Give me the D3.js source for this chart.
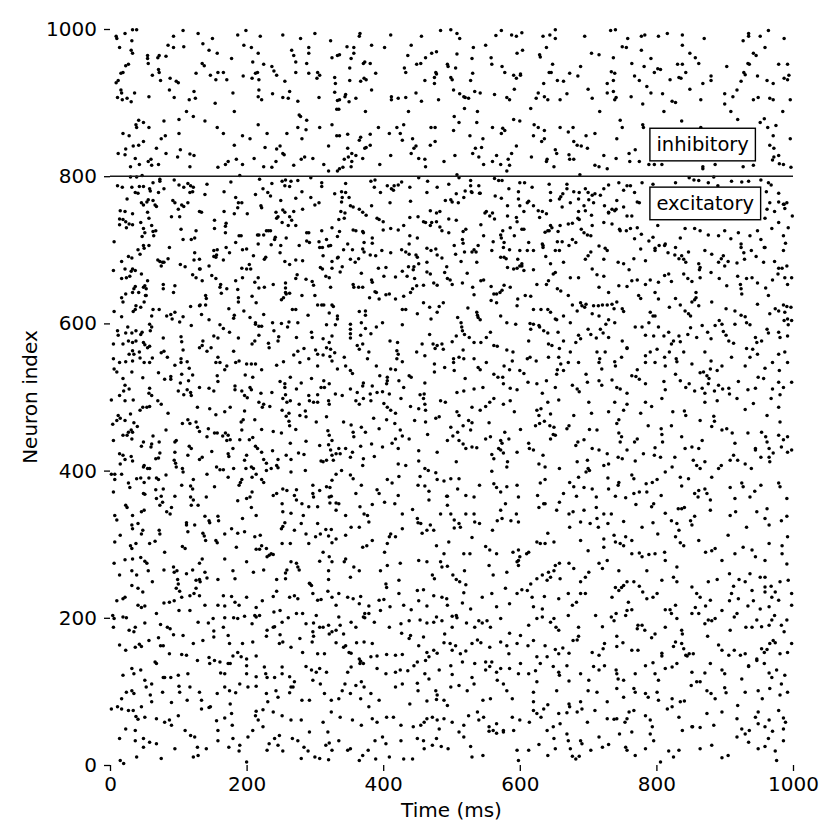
<!DOCTYPE html>
<html lang="en">
<head>
    <meta charset="UTF-8">
    <title>Spike raster</title>
    <script src="https://d3js.org/d3.v7.min.js"></script>
    <style>
        body { margin: 0; background: #fff; }
        text { font-family: "DejaVu Sans", sans-serif; fill: #000; }
    </style>
</head>
<body>
<div id="chart"></div>
<script>
    const xTicks = [0, 200, 400, 600, 800, 1000];
    const yTicks = [0, 200, 400, 600, 800, 1000];
    const boundary = 800;
    const groupNames = ["inhibitory", "excitatory"];

    // spikes as flat pairs: time (ms), neuron index, time, neuron index, ...
    const inhibitoryEarly = [
        9,990, 10,987, 22,994, 32,984, 33,999, 39,999, 93,990, 107,998, 129,994, 150,987, 187,992, 199,998, 220,990, 253,992, 279,987, 300,994, 323,984,
        14,975, 31,971, 33,967, 85,978, 93,975, 108,976, 136,980, 145,971, 157,967, 196,978, 207,975, 217,967, 266,971, 269,964, 291,975, 291,967, 325,961, 333,964, 55,964, 55,960, 72,964, 82,963, 70,961,
        56,953, 23,950, 27,952, 19,941, 16,940, 12,930, 9,927, 62,937, 71,945, 72,941, 74,930, 88,933, 97,929, 100,927, 126,940, 135,953, 138,950, 147,937, 155,931, 158,941, 166,941, 171,931, 178,960, 195,936, 209,955, 213,940, 216,941, 208,933, 218,931, 225,952, 237,949, 240,943, 244,937, 256,929, 272,955, 272,941, 288,953, 291,940, 304,941, 307,937, 303,933, 329,934, 330,926,
        16,917, 17,913, 11,907, 18,904, 25,906, 31,901, 36,913, 57,908, 87,917, 94,907, 123,915, 125,906, 116,904, 154,899, 180,913, 218,917, 217,908, 222,904, 238,912, 253,907, 261,906, 263,915, 275,902, 306,907, 329,914, 333,903,
        112,888, 122,881, 182,888, 79,875, 101,877, 42,876, 49,873, 38,870, 39,866, 57,866, 139,875, 157,866, 217,870, 277,883, 279,881, 288,876, 275,866, 287,863, 307,866, 325,870, 332,891,
        19,858, 28,855, 75,851, 81,855, 101,858, 166,858, 194,855, 205,851, 230,858, 259,858, 281,851, 332,855, 49,847, 42,842, 34,841, 182,842, 227,839, 244,837, 249,841, 320,841,
        12,831, 22,829, 23,837, 37,824, 43,816, 30,813, 56,820, 60,823, 61,815, 71,816, 68,838, 82,831, 99,826, 103,836, 117,830, 123,828, 117,813, 158,812, 169,816, 173,820, 185,823, 194,816, 211,824, 225,813, 237,812, 243,820, 253,831, 255,829, 269,815, 280,823, 285,826, 297,824, 313,816, 320,807, 333,807
    ];
    const inhibitoryMid = [
        366,994, 365,990, 411,992, 456,990, 484,998, 499,999, 508,994, 512,987, 573,998, 588,992, 595,990, 603,995, 634,990, 644,992, 652,999,
        347,976, 357,975, 353,960, 357,967, 383,978, 402,975, 441,978, 436,964, 449,952, 455,953, 462,961, 471,967, 478,969, 508,966, 532,975, 530,960, 550,978, 558,961, 559,952, 565,991, 596,967, 604,971, 629,965, 630,962, 639,975, 652,987, 371,953, 373,955, 381,953, 336,965,
        351,947, 389,940, 431,947, 433,941, 351,930, 367,929, 372,933, 375,931, 461,930, 475,934, 477,941, 478,939, 475,926, 494,952, 495,949, 499,934, 501,931, 506,947, 528,930, 531,940, 574,949, 578,941, 591,937, 601,939, 601,937, 595,933, 635,926, 643,941, 646,941, 648,952, 655,930, 664,929,
        383,917, 345,911, 344,908, 336,904, 350,901, 360,906, 374,888, 412,908, 412,904, 422,906, 433,907, 448,913, 456,902, 481,904, 503,917, 512,912, 518,908, 520,907, 525,906, 534,915, 542,913, 519,892, 538,888, 563,911, 581,907, 585,904, 592,918, 616,892, 624,906, 627,913, 636,908, 641,904, 659,904, 335,891, 437,888,
        504,881, 511,873, 503,862, 537,873, 591,877, 600,875, 430,870, 420,866, 425,858, 428,849, 393,866, 381,857, 367,853, 365,849, 348,857, 336,855, 409,858, 470,866, 476,866, 476,847, 527,855, 546,851, 560,866, 575,865, 578,862, 573,858, 621,870, 627,866, 620,855, 636,862, 659,866, 632,847, 636,851, 443,851,
        348,838, 375,839, 381,842, 373,838, 354,831, 360,828, 349,826, 354,820, 353,813, 343,823, 341,812, 336,810, 370,824, 395,816, 411,828, 441,831, 445,838, 448,841, 452,824, 461,823, 462,813, 469,842, 489,820, 505,828, 531,831, 535,838, 540,826, 544,839, 547,816, 560,820, 566,828, 572,816, 583,823, 585,815, 588,831, 595,841, 581,807, 617,826, 640,823, 639,820, 650,813, 652,836, 654,831, 508,802
    ];
    const inhibitoryLate = [
        695,990, 733,998, 740,999, 758,987, 778,990, 783,992, 803,990, 816,994, 838,992, 838,978, 870,987, 927,984, 935,994, 935,990, 952,990, 964,998, 987,987, 750,976, 756,975, 778,971, 959,975,
        705,967, 716,965, 737,961, 764,953, 792,960, 782,949, 797,941, 802,946, 806,945, 831,952, 838,952, 843,941, 849,967, 857,961, 862,953, 903,949, 928,941, 930,938, 934,953, 936,952, 942,967, 946,964, 979,952, 992,952, 994,937, 992,931, 987,933, 689,949, 673,940, 685,936, 734,942, 739,940, 728,926, 737,930, 768,936, 775,930, 786,922, 820,931, 833,934, 836,933, 868,926, 880,936, 880,930, 924,929, 948,936, 962,930, 971,926,
        700,918, 706,906, 728,913, 737,915, 741,907, 739,904, 763,908, 780,898, 792,913, 809,912, 823,902, 828,900, 849,918, 865,904, 900,912, 900,898, 912,908, 918,917, 942,904, 949,907, 966,906, 971,904, 985,888, 669,912, 717,888, 811,888, 909,888, 996,904,
        747,876, 750,866, 780,870, 781,866, 837,875, 678,866, 671,860, 697,855, 710,858, 742,851, 679,847, 684,842, 690,841, 699,838, 865,866, 952,873, 958,878, 963,866, 975,869, 971,855, 966,842, 972,838, 972,826, 979,828, 970,822, 980,817, 986,816, 997,812, 996,851, 919,877,
        672,829, 673,823, 679,823, 723,828, 741,824, 760,831, 761,820, 769,836, 775,820, 710,815, 716,813, 728,810, 688,802, 789,816, 797,816, 808,816, 868,813, 868,810, 886,816, 927,813, 942,815
    ];
    const excitatoryEarlyUpper = [
        30,799, 39,799, 47,801, 63,791, 73,796, 73,793, 94,795, 101,788, 108,785, 114,790, 118,787, 122,785, 121,779, 117,778, 142,789, 139,775, 177,792, 167,779, 190,801, 11,787, 18,785, 32,785, 37,778, 41,777, 43,786, 49,786, 58,783, 59,780, 71,778, 79,783, 219,796, 224,783, 237,790, 231,778, 235,773, 213,775, 252,793, 257,795, 256,787, 263,786, 265,793, 275,794, 281,779, 294,798, 310,791, 310,786, 329,776,
        25,769, 46,764, 54,765, 56,768, 63,767, 66,761, 49,761, 55,751, 68,759, 92,767, 95,764, 100,755, 105,761, 108,759, 114,764, 90,745, 102,745, 131,752, 134,751, 167,752, 184,771, 188,764, 193,764, 187,757, 182,749, 201,749, 221,760, 222,757, 243,751, 250,767, 253,754, 256,751, 269,752, 272,770, 282,755, 294,771, 300,761, 306,764, 15,753, 22,752, 14,742, 19,741, 33,749,
        14,734, 23,738, 24,730, 28,735, 33,734, 45,737, 49,729, 57,743, 61,733, 63,725, 67,726, 51,723, 47,718, 64,719, 6,711, 104,728, 107,714, 119,714, 124,716, 126,726, 153,740, 153,729, 170,736, 169,732, 169,723, 189,719, 192,719, 184,710, 216,720, 218,720, 225,720, 229,726, 232,726, 235,726, 242,717, 241,714, 244,743, 246,745, 252,737, 263,745, 266,740, 261,733, 258,716, 272,733, 288,723, 291,723, 288,712, 310,726, 306,711, 317,714, 325,730, 333,718,
        49,706, 50,702, 57,706, 41,700, 44,694, 27,691, 32,689, 87,703, 85,688, 70,686, 73,684, 77,683, 75,678, 79,683, 103,680, 110,677, 123,686, 131,687, 131,674, 132,674, 124,696, 152,699, 152,691, 157,700, 156,693, 155,690, 166,686, 170,703, 175,696, 194,700, 200,701, 210,692, 217,708, 228,690, 226,687, 236,707, 250,706, 249,696, 256,684, 263,680, 272,686, 277,706, 282,685, 292,710, 307,703, 311,703, 320,705, 323,706, 312,692, 325,684, 333,689, 145,678, 200,674, 204,680, 206,674, 193,675, 5,672, 17,684, 33,674, 22,674, 31,671,
        37,672, 17,661, 24,662, 29,664, 46,667, 37,650, 35,647, 49,649, 51,651, 55,658, 53,647, 78,653, 78,647, 95,651, 121,666, 126,662, 135,658, 149,665, 155,661, 162,653, 161,649, 163,641, 171,647, 184,658, 187,646, 194,662, 212,656, 217,662, 218,648, 226,649, 239,653, 257,655, 257,648, 257,642, 272,661, 274,666, 287,660, 296,657, 298,652, 308,676, 311,674, 316,664, 321,662, 325,675, 323,649, 23,640, 17,635, 33,642, 42,642, 52,638, 93,642,
        19,629, 38,624, 37,619, 34,616, 45,622, 50,629, 53,638, 6,616, 17,609, 63,619, 72,619, 61,610, 83,610, 89,612, 95,615, 91,606, 102,602, 107,609, 118,623, 119,597, 131,624, 132,625, 140,625, 134,612, 145,605, 141,634, 140,638, 174,620, 182,611, 181,607, 188,635, 188,629, 196,617, 205,608, 208,637, 214,628, 213,601, 213,599, 218,596, 222,596, 225,612, 238,601, 240,590, 251,600, 251,632, 254,635, 258,640, 263,641, 267,619, 272,619, 275,601, 281,638, 290,611, 300,638, 304,625, 310,625, 313,625, 325,625, 327,623, 321,614, 317,598, 330,598, 333,606,
        11,590, 12,584, 23,587, 26,595, 32,587, 38,590, 45,585, 47,588, 58,599, 61,595, 59,590, 78,580, 104,582, 105,575, 19,572, 27,576, 33,574, 38,576, 49,574, 51,571, 55,567, 58,569, 5,572, 136,576, 131,567, 135,570, 142,562, 148,567, 152,583, 158,580, 161,598, 166,593, 175,588, 181,562, 188,580, 208,572, 212,576, 218,584, 232,573, 233,567, 246,576, 247,582, 260,595, 262,602, 273,581, 284,566, 295,588, 296,581, 301,564, 304,558, 312,579, 317,567, 321,574, 325,583, 323,565, 329,560,
        33,563, 35,558, 43,561, 75,560, 79,562, 5,552, 14,547, 23,548, 28,558, 33,549, 44,553, 50,547, 62,553, 58,547, 84,554, 104,552, 104,547, 113,548, 107,564, 95,543, 116,539, 6,538, 10,534, 19,525, 32,534, 48,526, 71,533, 89,528, 89,524, 80,524, 105,531, 103,519, 115,522, 121,530, 131,513, 145,512, 155,547, 158,554, 161,547, 171,542, 168,537, 157,529, 158,521, 184,547, 189,549, 200,545, 207,545, 213,545, 222,537, 198,530, 209,527, 244,543, 254,548, 269,557, 275,562, 278,547, 291,552, 304,542, 312,557, 322,555, 325,549, 295,525, 280,519, 264,527, 249,521, 256,518, 313,522, 314,513, 309,513, 321,518,
        22,516, 20,508, 28,511, 58,512, 57,505, 14,502, 61,502, 100,508, 108,503, 113,510, 118,506, 119,502, 152,508, 183,515, 183,510, 193,508, 197,502, 205,513, 207,510, 221,505, 237,506, 256,513, 257,503, 273,511, 291,502, 304,503, 330,504
    ];
    const excitatoryMidUpper = [
        339,779, 345,778, 345,790, 382,793, 388,795, 387,785, 396,778, 406,787, 412,783, 416,787, 422,788, 415,781, 427,792, 439,785, 452,798, 465,793, 464,778, 479,785, 496,789, 511,798, 528,794, 529,779, 542,777, 540,787, 563,797, 569,794, 574,794, 584,783, 600,791, 607,791, 618,785, 643,789, 645,778, 663,776,
        339,765, 340,771, 350,771, 352,760, 356,758, 365,755, 370,751, 338,752, 344,750, 335,741, 343,743, 383,760, 410,764, 440,766, 491,767, 499,768, 501,765, 510,764, 507,776, 518,771, 520,780, 528,787, 530,778, 541,777, 564,773, 573,770, 582,760, 598,779, 598,769, 600,760, 611,764, 613,766, 620,760, 645,767, 658,769, 660,772, 469,753, 483,752, 478,750, 451,745, 459,738, 462,737, 471,737, 439,744, 394,741, 391,743, 400,738, 375,747, 360,726, 356,727, 370,725, 551,752, 560,750, 556,746, 563,742, 549,750, 582,746, 595,744, 596,738, 606,752, 627,753, 633,752, 629,744, 639,749, 645,733, 641,726, 647,730, 659,733, 662,758, 603,728,
        411,729, 422,727, 430,733, 483,731, 486,726, 496,742, 507,740, 521,728, 517,725, 496,723, 516,714, 517,709, 504,706, 543,734, 547,719, 561,711, 572,720, 575,726, 573,716, 577,710, 576,703, 586,730, 592,719, 606,728, 613,710, 633,708, 634,703, 637,724, 643,726, 655,711, 662,711, 656,725, 384,716, 384,709, 371,723, 372,710, 400,727, 439,719, 450,716, 469,733, 478,738, 464,702, 336,725, 348,708,
        342,700, 355,700, 359,683, 364,688, 370,701, 372,697, 381,693, 389,692, 334,690, 340,677, 352,687, 393,675, 398,699, 411,696, 427,700, 433,697, 438,708, 438,694, 448,693, 450,690, 452,681, 437,677, 445,677, 470,699, 477,701, 479,693, 486,689, 464,683, 493,677, 506,694, 519,697, 514,684, 530,697, 533,700, 536,697, 537,683, 539,706, 559,699, 572,690, 577,690, 580,688, 582,676, 585,700, 600,699, 611,699, 597,687, 600,678, 603,681, 596,675, 620,699, 634,706, 638,691, 652,699, 658,699, 664,683, 645,681,
        337,670, 368,668, 356,653, 357,649, 364,649, 370,649, 383,659, 384,656, 388,643, 390,642, 404,676, 401,664, 404,639, 409,640, 418,663, 428,671, 435,664, 444,673, 446,661, 443,647, 440,642, 430,637, 449,651, 459,652, 464,670, 469,667, 474,655, 479,652, 490,669, 494,661, 498,659, 501,653, 523,668, 516,655, 531,649, 533,639, 543,658, 547,659, 558,650, 562,640, 566,640, 571,642, 574,645, 577,652, 586,649, 591,674, 597,633, 603,678, 606,672, 608,638, 616,637, 620,673, 625,653, 639,653, 642,658, 649,667, 652,669, 655,647, 660,644,
        333,610, 352,599, 352,592, 368,601, 374,617, 374,611, 365,616, 380,635, 394,633, 418,633, 428,619, 433,619, 450,613, 459,628, 468,622, 470,606, 479,615, 482,623, 488,628, 524,621, 537,615, 538,611, 539,608, 542,605, 558,631, 566,628, 572,610, 581,601, 594,599, 596,624, 615,600, 620,619, 628,597, 631,619, 641,619, 645,615, 652,606, 664,610, 656,588,
        352,586, 352,580, 367,584, 374,593, 382,586, 390,595, 399,601, 410,576, 421,574, 428,598, 457,572, 468,585, 473,572, 476,566, 479,570, 486,572, 488,565, 501,575, 507,583, 509,608, 514,601, 515,595, 516,590, 519,585, 526,581, 533,574, 543,574, 551,581, 557,588, 562,570, 567,569, 581,564, 590,561, 613,576, 616,592, 620,599, 629,595, 635,590, 641,587, 642,572, 647,570, 654,605, 658,566, 664,576,
        333,538, 343,554, 345,542, 352,536, 355,532, 362,570, 365,565, 370,572, 379,561, 377,552, 390,542, 395,529, 406,527, 411,538, 418,537, 420,563, 422,558, 420,552, 428,548, 438,529, 441,527, 449,561, 461,556, 475,545, 475,534, 490,540, 503,552, 503,547, 504,536, 511,554, 517,564, 518,552, 533,552, 539,540, 542,537, 551,547, 562,531, 568,527, 575,527, 577,542, 585,537, 589,549, 600,536, 606,532, 611,552, 615,554, 624,549, 642,554, 657,554, 660,545, 655,537, 654,531, 664,536,
        340,502, 352,511, 362,506, 370,515, 371,519, 381,504, 384,515, 391,506, 399,507, 405,518, 406,522, 409,504, 423,522, 430,513, 454,503, 461,519, 460,504, 508,506, 518,508, 520,525, 533,511, 546,513, 576,518, 586,512, 596,510, 612,520, 625,518, 633,505, 639,522, 652,513
    ];
    const excitatoryLateUpper = [
        669,783, 679,779, 687,778, 696,783, 700,778, 706,774, 710,776, 718,774, 723,783, 730,788, 745,791, 752,781, 757,787, 762,787, 768,778, 779,791, 795,789, 828,791, 848,798, 855,795, 862,794, 876,791, 884,799, 890,787, 910,793, 925,792, 935,793, 953,795, 964,791, 968,788, 979,777, 986,762, 991,764, 961,779, 669,789,
        674,764, 686,769, 694,760, 701,768, 708,764, 686,752, 685,743, 687,741, 696,753, 705,747, 724,760, 730,751, 735,755, 739,753, 741,755, 742,767, 752,758, 757,746, 764,746, 772,765, 775,764, 966,764, 979,765, 987,762, 962,755, 973,752, 988,756, 999,746, 959,743,
        671,735, 677,736, 690,728, 694,723, 699,720, 704,719, 706,733, 723,737, 730,750, 735,735, 746,728, 747,726, 756,726, 762,729, 768,715, 772,730, 778,721, 789,712, 795,717, 798,702, 802,733, 813,708, 828,703, 835,716, 842,729, 856,729, 864,726, 876,720, 891,719, 900,726, 909,715, 920,723, 924,708, 937,719, 948,726, 953,714, 958,703, 969,729, 979,737, 993,730, 986,719, 989,709, 682,710, 677,714,
        672,706, 696,687, 700,692, 704,697, 716,705, 725,702, 723,687, 728,699, 744,683, 752,681, 760,673, 767,688, 777,701, 784,685, 798,699, 804,706, 812,706, 817,696, 827,693, 833,688, 837,692, 840,687, 843,683, 847,697, 862,681, 864,676, 871,699, 881,694, 891,683, 895,688, 898,692, 900,678, 905,684, 918,682, 924,703, 928,696, 929,687, 939,699, 946,691, 957,683, 959,703, 973,684, 986,699, 991,678, 979,675,
        674,662, 686,662, 706,674, 713,666, 716,649, 723,664, 730,642, 745,651, 757,650, 764,658, 772,659, 774,638, 784,653, 791,659, 798,642, 803,656, 812,665, 818,667, 822,657, 840,667, 846,661, 852,657, 858,642, 863,673, 864,662, 880,669, 892,661, 903,651, 919,664, 923,653, 924,647, 925,640, 932,661, 940,662, 948,655, 960,648, 964,638, 970,659, 978,667, 984,675, 988,662, 992,653, 998,662,
        671,638, 677,625, 684,617, 689,628, 691,624, 695,622, 697,626, 706,613, 708,624, 715,624, 716,610, 721,625, 728,625, 735,626, 738,620, 742,629, 750,620, 752,616, 730,605, 777,634, 791,615, 795,610, 798,610, 803,633, 819,622, 828,634, 835,625, 842,617, 847,613, 850,610, 852,629, 856,632, 858,635, 862,624, 881,629, 902,620, 915,617, 924,611, 930,609, 948,626, 966,613, 974,620, 979,617, 986,625, 991,623, 997,622, 988,615, 992,606,
        674,601, 686,584, 689,579, 682,574, 700,592, 704,585, 712,580, 718,592, 722,587, 726,599, 730,581, 739,601, 750,576, 757,567, 769,595, 779,595, 784,584, 789,601, 796,583, 803,595, 811,583, 818,588, 822,572, 825,576, 833,583, 835,575, 846,585, 850,594, 859,581, 867,597, 875,588, 880,579, 886,597, 892,604, 896,599, 898,589, 902,584, 906,576, 913,573, 915,599, 932,601, 937,598, 945,581, 947,574, 954,576, 962,592, 964,587, 979,588, 981,581, 992,583, 987,604, 993,598, 998,604, 932,566, 941,565,
        671,547, 674,561, 686,547, 697,531, 713,561, 716,547, 717,552, 720,538, 725,561, 739,548, 740,542, 749,554, 757,566, 772,537, 764,529, 775,524, 784,556, 784,547, 791,561, 798,547, 801,565, 812,554, 813,542, 819,561, 829,552, 830,548, 840,561, 852,545, 871,561, 880,549, 889,536, 896,542, 869,534, 864,533, 874,529, 879,538, 910,554, 930,542, 937,554, 948,558, 959,539, 970,547, 979,558, 988,561, 992,547, 980,536,
        684,511, 687,507, 677,516, 699,520, 716,522, 720,516, 735,523, 742,513, 747,511, 757,505, 770,528, 784,518, 811,521, 813,510, 828,531, 835,522, 843,513, 848,518, 856,508, 867,512, 871,505, 876,518, 877,525, 885,508, 891,516, 897,511, 906,512, 907,504, 920,521, 934,510, 945,512, 949,527, 957,525, 970,511, 979,520, 986,513, 998,520, 981,503
    ];
    const excitatoryEarlyLower = [
        22,495, 34,496, 70,495, 75,490, 85,478, 128,486, 146,484, 155,476, 168,480, 176,486, 197,481, 201,499, 218,493, 225,490, 223,486, 234,487, 253,498, 252,482, 259,493, 264,495, 262,478, 277,490, 286,481, 292,495, 298,493, 304,493, 320,495, 321,490, 2,496, 44,482, 48,486, 54,486, 58,487, 30,477, 12,475, 15,471,
        10,468, 22,468, 4,463, 35,465, 40,460, 19,448, 25,448, 27,452, 31,455, 33,452, 32,443, 46,433, 49,439, 5,441, 63,447, 61,436, 72,439, 82,455, 106,464, 114,469, 117,464, 126,466, 128,459, 131,453, 144,457, 142,446, 153,451, 157,451, 165,447, 169,451, 173,448, 171,441, 176,442, 192,466, 195,469, 193,455, 190,442, 212,469, 204,442, 209,445, 222,456, 239,453, 251,451, 258,474, 262,467, 263,461, 272,456, 278,475, 287,473, 302,466, 317,473, 319,454, 321,448, 325,441, 287,440, 264,437,
        19,421, 14,423, 22,415, 31,419, 33,413, 67,416, 71,417, 60,432, 73,424, 95,439, 97,441, 95,425, 94,414, 96,410, 116,433, 119,430, 114,421, 131,415, 135,418, 149,426, 173,423, 174,419, 180,430, 197,414, 200,421, 213,433, 216,430, 222,425, 225,415, 229,410, 238,427, 246,415, 244,407, 258,421, 265,415, 276,424, 284,422, 307,434, 312,412, 317,414, 320,435, 323,428, 325,421, 331,423, 327,414, 15,409,
        17,395, 7,395, 2,395, 7,388, 27,383, 29,377, 39,389, 49,405, 50,407, 55,403, 58,403, 45,390, 50,384, 57,390, 68,390, 71,388, 82,394, 67,374, 78,375, 51,368, 97,405, 106,403, 107,398, 105,380, 122,388, 118,379, 121,375, 142,395, 153,378, 156,405, 161,401, 166,401, 173,391, 181,403, 189,380, 191,384, 193,388, 199,403, 207,405, 210,403, 208,391, 214,395, 222,388, 225,384, 229,400, 236,403, 246,404, 253,375, 259,373, 265,398, 273,374, 286,400, 297,380, 307,373, 317,378, 322,377, 325,387, 331,395, 324,365, 309,413, 5,371,
        7,339, 10,333, 23,353, 25,350, 33,339, 46,344, 50,346, 49,369, 68,362, 75,365, 77,357, 73,353, 83,344, 88,341, 95,365, 90,350, 118,364, 122,360, 119,353, 129,353, 141,364, 139,338, 145,332, 158,338, 159,332, 187,359, 194,335, 200,362, 205,364, 208,371, 207,350, 214,339, 239,366, 244,369, 253,344, 252,355, 265,342, 270,366, 273,360, 281,355, 283,339, 297,369, 291,351, 298,364, 304,351, 321,364, 322,356, 331,356, 331,346,
        7,303, 15,312, 32,326, 33,321, 41,328, 46,314, 48,319, 30,298, 32,294, 38,301, 58,301, 66,304, 72,319, 73,314, 80,289, 112,329, 112,326, 114,317, 106,297, 110,294, 124,326, 136,315, 138,311, 140,305, 146,329, 155,305, 157,302, 168,314, 178,321, 185,296, 187,315, 197,317, 212,310, 220,312, 222,298, 219,293, 214,293, 229,294, 233,285, 236,287, 251,321, 253,324, 256,329, 252,301, 264,301, 270,319, 280,328, 287,314, 291,301, 301,310, 304,328, 308,314, 316,320, 320,311, 324,320, 331,307, 325,302,
        6,274, 14,258, 22,279, 32,264, 33,280, 39,258, 45,282, 51,277, 54,274, 56,264, 62,249, 79,265, 93,269, 94,262, 98,264, 99,252, 100,246, 112,260, 121,265, 126,251, 131,252, 132,249, 131,274, 135,280, 139,262, 142,254, 158,252, 168,280, 180,264, 183,253, 200,276, 210,262, 225,265, 230,283, 239,286, 244,252, 257,261, 257,253, 259,265, 265,276, 273,274, 275,269, 277,265, 292,247, 295,244, 307,277, 320,264, 321,283, 325,276, 312,289,
        10,223, 19,226, 22,228, 32,244, 41,240, 48,235, 41,217, 46,214, 51,216, 79,220, 87,221, 94,223, 97,240, 102,236, 105,228, 117,230, 123,233, 126,240, 131,230, 139,217, 158,217, 166,230, 178,229, 183,221, 189,217, 200,228, 214,214, 223,223, 244,236, 239,229, 263,228, 270,230, 275,226, 293,246, 297,233, 304,224, 309,225, 319,236, 325,228, 331,217, 320,252,
        4,203, 6,199, 5,187, 19,201, 24,200, 37,187, 28,183, 35,181, 51,193, 68,206, 74,191, 84,187, 88,185, 93,177, 101,210, 117,210, 107,176, 129,194, 144,193, 151,199, 152,182, 168,216, 168,200, 166,187, 181,200, 187,199, 197,202, 208,192, 212,203, 214,201, 219,203, 230,183, 240,208, 241,188, 249,210, 252,194, 261,200, 273,206, 282,206, 287,192, 298,193, 302,203, 307,187, 312,187, 320,190, 321,178, 325,181, 331,183, 298,175,
        14,163, 23,156, 37,160, 43,164, 46,161, 57,169, 71,173, 74,162, 78,162, 87,151, 105,150, 112,149, 122,165, 128,142, 136,169, 145,146, 153,142, 152,174, 161,140, 173,176, 175,165, 176,138, 180,148, 187,153, 194,165, 200,144, 209,167, 214,148, 229,175, 239,187, 248,165, 253,167, 249,177, 265,160, 278,172, 282,153, 296,167, 297,181, 304,151, 314,151, 331,166,
        19,122, 32,131, 35,124, 45,129, 51,115, 61,110, 66,140, 68,138, 78,119, 89,119, 100,122, 114,124, 146,138, 162,125, 168,124, 173,138, 192,147, 200,135, 200,124, 214,120, 226,133, 228,124, 230,119, 241,119, 252,133, 252,124, 263,120, 270,113, 268,106, 287,134, 295,129, 297,115, 302,126, 307,131, 317,126,
        17,90, 24,99, 32,101, 35,97, 53,106, 59,95, 61,86, 77,99, 80,119, 90,85, 101,107, 102,99, 113,88, 117,106, 131,99, 134,88, 147,79, 157,97, 168,106, 175,101, 184,98, 190,110, 202,106, 214,107, 229,97, 231,86, 243,101, 246,92, 265,106, 263,98, 281,88, 292,88, 308,110, 314,97, 324,88,
        2,76, 11,79, 17,76, 27,74, 34,74, 38,66, 46,79, 41,62, 37,47, 23,49, 51,65, 68,63, 80,58, 87,61, 90,54, 100,67, 110,47, 134,76, 145,78, 156,60, 158,47, 168,64, 178,70, 176,83, 179,54, 209,47, 214,73, 213,67, 217,61, 224,75, 224,52, 239,72, 252,67, 265,61, 280,61, 292,45, 312,58, 319,45, 324,72,
        14,36, 37,33, 49,36, 58,31, 68,29, 49,24, 95,22, 118,40, 124,38, 128,24, 129,13, 122,11, 141,22, 158,33, 174,24, 180,36, 190,27, 189,19, 200,4, 202,38, 230,20, 233,29, 241,36, 246,27, 248,40, 253,19, 267,36, 275,33, 280,9, 284,24, 290,19, 300,11, 307,9, 316,27, 321,30, 325,20, 320,7, 15,6, 20,2, 39,11, 75,9
    ];
    const excitatoryMidLower = [
        342,466, 360,495, 365,490, 371,498, 382,495, 401,491, 406,486, 411,482, 418,478, 426,498, 440,487, 452,484, 459,498, 461,490, 462,482, 484,495, 491,493, 508,480, 511,475, 530,486, 542,482, 550,487, 556,493, 562,498, 576,490, 586,495, 592,480, 625,482, 628,475, 641,493, 645,477, 657,496, 631,484,
        353,462, 356,452, 357,446, 368,459, 374,452, 386,471, 394,457, 405,469, 417,464, 418,443, 425,455, 428,447, 438,443, 446,468, 462,466, 465,449, 477,471, 482,473, 499,459, 502,447, 509,452, 517,461, 525,468, 530,465, 528,455, 555,465, 550,443, 557,446, 572,441, 578,452, 584,443, 601,456, 623,461, 629,464, 636,467, 644,461, 650,459, 649,449, 652,448, 645,443,
        335,430, 337,423, 345,430, 355,425, 352,418, 367,433, 371,416, 370,407, 383,436, 387,419, 399,432, 413,437, 422,430, 422,409, 433,407, 452,427, 452,413, 461,403, 466,400, 479,425, 494,441, 507,412, 511,441, 517,436, 521,430, 530,432, 537,431, 559,422, 562,416, 569,430, 572,428, 576,424, 581,405, 574,437, 582,412, 596,425, 613,437, 614,430, 620,428, 634,421, 628,409, 637,405, 658,403,
        339,400, 352,394, 356,389, 368,380, 360,369, 391,374, 394,369, 406,388, 413,383, 423,392, 454,392, 451,380, 461,379, 467,372, 477,397, 479,388, 489,386, 493,365, 499,389, 511,389, 509,375, 521,366, 533,364, 541,380, 559,399, 562,382, 566,377, 572,371, 581,378, 596,380, 598,364, 626,366, 630,383, 637,388, 654,346, 658,357, 664,369, 637,355,
        335,355, 345,339, 366,351, 372,341, 377,339, 379,330, 384,354, 402,357, 417,355, 422,366, 428,341, 443,347, 450,335, 455,328, 467,360, 469,326, 474,319, 484,341, 494,365, 494,353, 499,341, 504,333, 511,328, 521,341, 533,341, 534,330, 541,328, 572,346, 567,332, 574,335, 579,355, 587,332, 595,341, 598,330, 635,355, 628,350,
        345,312, 353,323, 365,323, 370,296, 376,298, 384,305, 406,301, 402,289, 409,310, 411,314, 418,310, 425,274, 428,321, 451,329, 457,315, 464,319, 478,298, 489,287, 496,303, 504,322, 513,323, 518,287, 530,309, 550,297, 556,292, 560,319, 566,287, 590,289, 598,292, 598,278, 613,289, 625,303, 630,301, 637,301, 641,315, 650,303,
        345,280, 352,255, 343,276, 357,269, 365,264, 396,264, 406,271, 423,251, 452,278, 464,276, 472,258, 475,253, 484,276, 486,269, 494,270, 502,258, 507,252, 512,249, 519,264, 521,245, 527,287, 555,271, 561,258, 581,262, 596,276, 598,271, 600,283, 610,287, 616,246, 625,253, 633,258, 640,251, 642,262, 650,264, 652,271, 658,274, 659,253,
        335,233, 348,228, 356,226, 367,229, 365,219, 379,216, 373,206, 371,201, 394,224, 401,225, 404,246, 405,241, 396,210, 410,215, 423,233, 430,217, 441,211, 450,237, 452,223, 459,238, 464,216, 474,230, 486,228, 493,226, 501,202, 494,217, 507,203, 516,220, 518,234, 528,212, 545,228, 559,233, 566,215, 579,240, 585,219, 596,233, 603,238, 611,237, 618,228, 620,215, 633,212, 636,229, 645,255, 657,226,
        335,201, 337,190, 342,178, 353,194, 360,187, 373,200, 379,206, 387,194, 409,187, 426,192, 427,179, 438,196, 440,176, 454,197, 464,193, 474,194, 478,201, 486,196, 490,178, 501,187, 508,200, 522,193, 534,187, 540,196, 545,193, 552,196, 557,187, 572,199, 585,179, 601,176, 613,190, 625,199, 633,201, 645,194, 650,199, 653,187, 657,183,
        342,160, 345,162, 350,153, 353,152, 361,166, 365,144, 366,138, 372,167, 384,165, 391,148, 405,150, 418,149, 428,150, 438,172, 452,162, 459,174, 464,153, 467,147, 474,156, 479,152, 489,166, 498,165, 501,156, 506,162, 513,151, 521,155, 530,165, 538,170, 543,166, 556,160, 572,167, 581,162, 584,151, 596,165, 612,162, 620,169, 625,147, 637,162, 652,157, 657,151, 663,159,
        348,126, 353,133, 367,141, 371,138, 382,147, 391,131, 404,124, 418,126, 425,129, 436,128, 445,135, 450,140, 462,142, 467,117, 461,124, 482,129, 499,135, 501,123, 516,140, 534,138, 530,119, 550,129, 550,140, 556,134, 559,140, 566,126, 572,131, 585,131, 598,124, 601,138, 613,124, 623,128, 630,138, 640,147, 649,134, 657,126, 658,122,
        335,90, 340,101, 344,110, 352,97, 360,108, 368,113, 372,106, 367,90, 382,97, 394,88, 418,106, 428,110, 450,111, 451,101, 464,87, 477,101, 479,95, 478,89, 489,88, 494,81, 499,106, 511,108, 523,101, 533,110, 546,88, 557,90, 567,115, 576,110, 581,101, 589,90, 620,99, 620,86, 625,113, 641,82, 654,101,
        337,65, 355,61, 368,54, 379,79, 384,63, 391,58, 405,65, 415,65, 426,54, 439,83, 444,52, 455,54, 460,58, 464,63, 472,65, 479,61, 482,49, 489,63, 501,58, 511,45, 518,54, 525,67, 538,72, 540,61, 547,65, 555,52, 561,47, 566,56, 576,47, 589,65, 600,61, 614,58, 620,74, 625,70, 631,65, 635,76, 649,52, 657,70, 659,56,
        335,33, 348,20, 352,22, 365,6, 370,13, 378,20, 388,33, 389,8, 399,38, 404,29, 409,11, 426,33, 430,8, 443,8, 450,36, 459,33, 460,22, 472,27, 478,36, 485,25, 495,22, 518,38, 528,25, 530,11, 546,13, 555,46, 566,43, 576,45, 591,47, 596,20, 598,6, 613,20, 628,28, 640,47, 650,36, 652,22, 641,13
    ];
    const excitatoryLateLower = [
        679,475, 701,493, 705,478, 730,480, 739,493, 745,469, 752,482, 757,490, 777,478, 784,493, 793,487, 808,498, 824,480, 841,481, 843,475, 864,468, 871,493, 884,474, 889,495, 918,498, 930,483, 942,491, 962,475, 968,498, 979,486, 981,466,
        672,461, 669,457, 702,456, 713,455, 682,434, 685,439, 694,442, 706,430, 716,428, 728,423, 742,464, 745,451, 749,446, 747,439, 757,428, 768,439, 772,443, 788,461, 798,431, 807,457, 808,449, 809,439, 822,461, 837,446, 852,432, 862,430, 867,441, 881,460, 885,467, 896,455, 903,457, 911,451, 915,437, 934,451, 945,430, 954,452, 960,446, 962,439, 965,430, 979,448, 986,442, 992,446, 998,428, 983,432,
        684,412, 686,391, 699,414, 700,403, 702,400, 697,398, 723,407, 730,409, 744,418, 750,416, 769,413, 781,423, 797,421, 806,418, 823,405, 827,418, 842,430, 854,414, 859,407, 864,403, 871,412, 881,391, 891,403, 895,407, 908,414, 913,421, 919,414, 930,409, 939,403, 945,428, 953,418, 965,418, 966,412, 971,424, 992,425,
        673,384, 679,378, 683,365, 694,377, 706,375, 712,364, 729,390, 730,375, 740,365, 744,380, 745,384, 755,363, 764,394, 767,389, 767,369, 775,371, 785,382, 786,371, 794,384, 801,388, 807,366, 813,398, 835,391, 837,379, 847,389, 856,369, 861,364, 862,373, 871,375, 874,369, 879,360, 908,377, 915,362, 925,383, 927,378, 937,364, 944,372, 953,380, 979,383, 981,378, 991,362,
        672,341, 678,344, 689,330, 694,346, 703,328, 712,350, 713,335, 723,341, 729,328, 734,341, 752,331, 770,354, 779,323, 793,351, 796,355, 795,329, 813,342, 822,332, 830,328, 832,348, 837,348, 841,350, 850,332, 856,338, 879,346, 908,339, 916,344, 932,323, 947,344, 962,348, 959,335, 965,326, 983,332, 991,338, 992,310,
        673,323, 689,305, 700,291, 715,323, 723,307, 723,296, 738,312, 740,303, 747,301, 752,298, 755,310, 764,305, 764,287, 775,288, 779,283, 789,286, 798,287, 802,314, 812,289, 813,278, 828,310, 833,319, 835,302, 840,298, 852,326, 862,305, 872,289, 881,291, 886,294, 896,278, 905,312, 915,287, 927,296, 940,292, 945,283, 959,278, 965,301, 984,298, 984,287, 991,273,
        672,274, 679,267, 689,249, 696,255, 701,262, 716,274, 721,267, 728,278, 745,264, 757,249, 767,249, 775,243, 786,264, 808,251, 825,255, 830,269, 830,249, 852,242, 859,233, 864,228, 876,249, 889,252, 907,260, 913,243, 921,252, 930,249, 937,260, 940,237, 952,255, 959,255, 959,242, 968,243, 974,235, 981,249, 993,251, 998,233, 969,228,
        671,233, 677,217, 683,221, 689,233, 696,233, 735,228, 740,241, 745,237, 749,241, 752,244, 759,221, 780,235, 786,226, 795,228, 801,233, 764,211, 813,211, 820,211, 828,217, 857,214, 872,216, 879,224, 886,199, 896,210, 907,223, 910,233, 920,226, 934,216, 942,223, 952,212, 959,235, 965,215, 979,224, 998,217,
        671,203, 686,187, 711,203, 721,188, 734,201, 738,196, 741,206, 755,203, 757,210, 773,190, 772,185, 779,190, 783,183, 798,178, 813,187, 822,206, 830,199, 837,183, 838,178, 852,206, 862,206, 871,192, 875,175, 876,197, 881,196, 908,183, 914,201, 918,206, 931,187, 940,187, 947,197, 954,188, 965,190, 969,197, 973,203, 983,190, 991,197, 987,181,
        672,152, 678,169, 684,170, 686,175, 706,153, 716,149, 722,158, 724,165, 742,175, 742,161, 751,166, 764,156, 773,156, 793,173, 808,152, 808,148, 825,161, 828,167, 837,165, 840,158, 843,149, 848,151, 854,151, 879,138, 891,163, 896,156, 906,149, 914,156, 923,149, 930,151, 935,135, 947,142, 954,158, 958,153, 962,157, 966,165, 971,169, 974,166, 981,151, 992,153, 998,165,
        669,135, 689,124, 701,115, 708,134, 716,129, 724,135, 741,129, 742,124, 744,117, 752,115, 769,124, 784,135, 795,139, 798,124, 803,115, 813,131, 823,133, 830,138, 845,148, 852,126, 859,113, 871,125, 896,129, 900,124, 925,117, 935,134, 947,144, 958,138, 965,125, 969,119, 976,129, 983,110, 988,122,
        672,114, 672,83, 689,86, 700,101, 713,99, 728,86, 742,104, 752,92, 767,104, 769,99, 784,97, 788,92, 801,99, 803,88, 823,90, 835,86, 841,87, 851,108, 864,113, 874,101, 880,97, 886,90, 900,105, 902,98, 919,81, 930,99, 949,101, 955,90, 966,104, 981,95, 992,99,
        669,71, 673,79, 684,72, 691,76, 699,58, 710,74, 728,63, 738,62, 742,63, 754,58, 757,63, 760,72, 767,74, 784,67, 791,61, 794,52, 816,76, 823,79, 833,65, 852,52, 864,51, 874,70, 884,54, 896,72, 918,63, 925,49, 936,47, 945,65, 949,72, 949,56, 959,52, 965,61, 970,46, 979,74, 986,64, 989,58, 986,49,
        669,42, 671,33, 674,22, 677,12, 682,8, 687,12, 689,33, 691,29, 704,20, 716,38, 721,24, 730,28, 746,42, 755,24, 757,20, 764,45, 769,13, 784,22, 791,42, 796,33, 806,4, 818,19, 825,11, 833,20, 838,47, 853,52, 864,22, 881,27, 896,10, 905,13, 918,38, 930,42, 935,31, 949,22, 959,25, 964,36, 974,19, 976,6, 986,33
    ];

    const blocks = [
        inhibitoryEarly, inhibitoryMid, inhibitoryLate,
        excitatoryEarlyUpper, excitatoryMidUpper, excitatoryLateUpper,
        excitatoryEarlyLower, excitatoryMidLower, excitatoryLateLower
    ];
    const spikes = blocks.flatMap(arr => {
        const out = [];
        for (let i = 0; i < arr.length; i += 2) out.push({ t: arr[i], n: arr[i + 1] });
        return out;
    });

    const W = 840, H = 840;
    const margin = { top: 29, right: 47, bottom: 75, left: 110 };
    const width = W - margin.left - margin.right;
    const height = H - margin.top - margin.bottom;

    const svg = d3.select("#chart").append("svg")
        .attr("width", W)
        .attr("height", H);
    const g = svg.append("g")
        .attr("transform", "translate(" + margin.left + "," + margin.top + ")");

    const x = d3.scaleLinear().domain([0, 1000]).range([0, width]);
    const y = d3.scaleLinear().domain([0, 1000]).range([height, 0]);

    // spikes
    g.selectAll("circle.spike")
        .data(spikes)
        .enter()
        .append("circle")
        .attr("class", "spike")
        .attr("cx", d => x(d.t))
        .attr("cy", d => y(d.n))
        .attr("r", 1.75)
        .attr("fill", "#000");

    // boundary between the two populations
    g.append("line")
        .attr("x1", x(0)).attr("x2", x(1000))
        .attr("y1", y(boundary)).attr("y2", y(boundary))
        .attr("stroke", "#1a1a1a")
        .attr("stroke-width", 1.5);

    // axes: ticks only, no spines
    const xAxis = g.append("g")
        .attr("transform", "translate(0," + height + ")")
        .call(d3.axisBottom(x).tickValues(xTicks).tickFormat(d3.format("d")).tickSize(6).tickPadding(6).tickSizeOuter(0));
    const yAxis = g.append("g")
        .call(d3.axisLeft(y).tickValues(yTicks).tickFormat(d3.format("d")).tickSize(6).tickPadding(7).tickSizeOuter(0));
    [xAxis, yAxis].forEach(ax => {
        ax.select(".domain").remove();
        ax.selectAll(".tick line").attr("stroke", "#000").attr("stroke-width", 1.3);
        ax.selectAll(".tick text").attr("font-size", "20px").attr("font-family", "DejaVu Sans").attr("fill", "#000");
    });

    svg.append("text")
        .attr("x", margin.left + width / 2)
        .attr("y", 816.5)
        .attr("text-anchor", "middle")
        .attr("font-size", "20px")
        .text("Time (ms)");

    svg.append("text")
        .attr("transform", "translate(37," + (margin.top + height / 2) + ") rotate(-90)")
        .attr("text-anchor", "middle")
        .attr("font-size", "20px")
        .text("Neuron index");

    // population labels with boxes
    const labelAt = [843, 763];
    groupNames.forEach((name, i) => {
        const lg = g.append("g");
        const rect = lg.append("rect");
        const txt = lg.append("text")
            .attr("x", x(800))
            .attr("y", y(labelAt[i]))
            .attr("font-size", "19.5px")
            .text(name);
        const bb = txt.node().getBBox();
        const shift = y(labelAt[i]) - (bb.y + bb.height / 2);
        txt.attr("y", y(labelAt[i]) + shift);
        const padX = 6.5, padY = 4.8;
        rect.attr("x", bb.x - padX)
            .attr("y", bb.y + shift - padY)
            .attr("width", bb.width + padX * 2)
            .attr("height", bb.height + padY * 2)
            .attr("fill", "#fff")
            .attr("stroke", "#000")
            .attr("stroke-width", 1.4);
    });
</script>
</body>
</html>
